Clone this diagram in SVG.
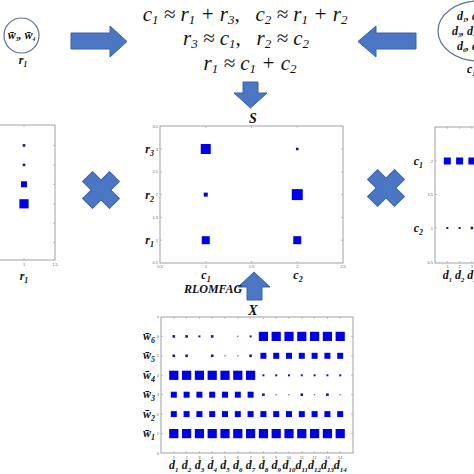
<svg xmlns="http://www.w3.org/2000/svg" xmlns:xlink="http://www.w3.org/1999/xlink" width="474" height="474" viewBox="0 0 474 474">
<style>
.eq{font-family:"Liberation Serif",serif;font-style:italic;font-size:21px;fill:#111}
.lab{font-family:"Liberation Serif",serif;font-style:italic;font-weight:bold;font-size:12px;fill:#111}
.ttl{font-family:"Liberation Serif",serif;font-style:italic;font-weight:bold;font-size:14px;fill:#111}
.tk{font-family:"Liberation Sans",sans-serif;font-size:4px;fill:#666}
.frame{fill:#fff;stroke:#a0a0a0;stroke-width:1}
.tick{stroke:#a0a0a0;stroke-width:0.6}
.arrow{fill:#4a76c4;stroke:#3a62a8;stroke-width:1}
.circ{fill:none;stroke:#5a6f95;stroke-width:1.2}
.mk{fill:#0000e6}
.dt{fill:#1c1c70}
</style>
<defs>
<rect id="m9" class="mk" x="-4.6" y="-4.6" width="9.2" height="9.2"/>
<rect id="m11" class="mk" x="-5.5" y="-5.5" width="11" height="11"/>
<rect id="m10" class="mk" x="-5" y="-5" width="10" height="10"/>
<rect id="m8" class="mk" x="-4" y="-4" width="8" height="8"/>
<rect id="m7" class="mk" x="-3.5" y="-3.5" width="7" height="7"/>
<rect id="m6" class="mk" x="-3" y="-3" width="6" height="6"/>
<rect id="m4" class="mk" x="-2" y="-2" width="4" height="4"/>
<rect id="d3" class="dt" x="-1.3" y="-1.3" width="2.6" height="2.6"/>
<rect id="d2" class="dt" x="-1" y="-1" width="2" height="2"/>
<rect id="d1" class="dt" x="-0.7" y="-0.7" width="1.4" height="1.4" opacity="0.6"/>
</defs>
<rect width="474" height="474" fill="#fff"/>

<!-- equations -->
<g id="equations">
<text class="eq" x="245" y="21" text-anchor="middle">c<tspan font-size="13" dy="3">1</tspan><tspan dy="-3"> ≈ r</tspan><tspan font-size="13" dy="3">1</tspan><tspan dy="-3"> + r</tspan><tspan font-size="13" dy="3">3</tspan><tspan dy="-3">,&#160;&#160;&#160;c</tspan><tspan font-size="13" dy="3">2</tspan><tspan dy="-3"> ≈ r</tspan><tspan font-size="13" dy="3">1</tspan><tspan dy="-3"> + r</tspan><tspan font-size="13" dy="3">2</tspan></text>
<text class="eq" x="246" y="45" text-anchor="middle">r<tspan font-size="13" dy="3">3</tspan><tspan dy="-3"> ≈ c</tspan><tspan font-size="13" dy="3">1</tspan><tspan dy="-3">,&#160;&#160;&#160;r</tspan><tspan font-size="13" dy="3">2</tspan><tspan dy="-3"> ≈ c</tspan><tspan font-size="13" dy="3">2</tspan></text>
<text class="eq" x="250" y="70" text-anchor="middle">r<tspan font-size="13" dy="3">1</tspan><tspan dy="-3"> ≈ c</tspan><tspan font-size="13" dy="3">1</tspan><tspan dy="-3"> + c</tspan><tspan font-size="13" dy="3">2</tspan></text>
</g>

<!-- left cluster circle -->
<g id="cluster-r1">
<circle class="circ" cx="21.5" cy="35.5" r="17.5"/>
<text class="lab" x="21.5" y="39" text-anchor="middle" font-size="8">w&#x304;<tspan font-size="5.5" dy="2">3</tspan><tspan dy="-2">, w&#x304;</tspan><tspan font-size="5.5" dy="2">4</tspan></text>
<text class="lab" x="23" y="64" text-anchor="middle" font-size="11">r<tspan font-size="7.5" dy="3">1</tspan></text>
</g>

<!-- right cluster ellipse -->
<g id="cluster-c1">
<ellipse class="circ" cx="479" cy="31" rx="41" ry="30"/>
<text class="lab" x="457" y="20" font-size="9">d<tspan font-size="6" dy="2">1</tspan><tspan dy="-2">, d</tspan><tspan font-size="6" dy="2">2</tspan></text>
<text class="lab" x="452" y="35" font-size="9">d<tspan font-size="6" dy="2">3</tspan><tspan dy="-2">, d</tspan><tspan font-size="6" dy="2">4</tspan><tspan dy="-2">, d</tspan><tspan font-size="6" dy="2">5</tspan></text>
<text class="lab" x="457" y="50" font-size="9">d<tspan font-size="6" dy="2">6</tspan><tspan dy="-2">, d</tspan><tspan font-size="6" dy="2">7</tspan></text>
<text class="lab" x="467" y="73" font-size="11">c<tspan font-size="7.5" dy="3">1</tspan></text>
</g>

<!-- connectors -->
<g id="connectors">
<polygon class="arrow" points="71,33 110,33 110,26 127,41.5 110,57 110,49 71,49"/>
<polygon class="arrow" points="416,33 376,33 376,26 358,41.5 376,57 376,49 416,49"/>
<polygon class="arrow" points="243,82 258,82 258,93 267,93 250.5,108 234,93 243,93"/>
<polygon class="arrow" points="254,272 270,287 262,287 262,300 247,300 247,287 238,287"/>
<polygon class="arrow" transform="translate(101,190) rotate(45)" points="-7,-19 7,-19 7,-7 19,-7 19,7 7,7 7,19 -7,19 -7,7 -19,7 -19,-7 -7,-7"/>
<polygon class="arrow" transform="translate(386,188) rotate(45)" points="-7,-19 7,-19 7,-7 19,-7 19,7 7,7 7,19 -7,19 -7,7 -19,7 -19,-7 -7,-7"/>
</g>

<!-- left plot: W x R -->
<g id="plot-WR">
<rect class="frame" x="-10" y="125" width="65" height="135"/>
<path class="tick" d="M24,125v2M24,260v-2M55,145.4h-2M55,164.9h-2M55,184.3h-2M55,203.8h-2M55,223.2h-2M55,242.6h-2"/>
<text class="tk" x="24" y="266" text-anchor="middle">1</text>
<text class="tk" x="55" y="266" text-anchor="middle">1.5</text>
<use xlink:href="#d3" x="24" y="145.4"/>
<use xlink:href="#d3" x="24" y="164.9"/>
<use xlink:href="#m6" x="24" y="184.3"/>
<use xlink:href="#m9" x="24" y="203.8"/>
<text class="lab" x="24" y="280" text-anchor="middle" font-size="12">r<tspan font-size="8" dy="3">1</tspan></text>
</g>

<!-- S plot -->
<g id="plot-S">
<text class="ttl" x="253" y="123" text-anchor="middle">S</text>
<rect class="frame" x="160" y="126" width="183" height="137"/>
<path class="tick" d="M205.75,126v2M251.5,126v2M297.25,126v2M205.75,263v-2M251.5,263v-2M297.25,263v-2M160,149h2M160,171.8h2M160,194.6h2M160,217.4h2M160,240.2h2M343,149h-2M343,171.8h-2M343,194.6h-2M343,217.4h-2M343,240.2h-2"/>
<g class="tk" text-anchor="end">
<text x="158" y="127.5">3.5</text>
<text x="158" y="150.5">3</text>
<text x="158" y="173.3">2.5</text>
<text x="158" y="196.1">2</text>
<text x="158" y="218.9">1.5</text>
<text x="158" y="241.7">1</text>
<text x="158" y="264">0.5</text>
</g>
<g class="tk" text-anchor="middle">
<text x="160" y="268">0.5</text>
<text x="205.75" y="268">1</text>
<text x="251.5" y="268">1.5</text>
<text x="297.25" y="268">2</text>
<text x="343" y="268">2.5</text>
</g>
<text class="lab" x="154" y="153" text-anchor="end">r<tspan font-size="8" dy="3">3</tspan></text>
<text class="lab" x="154" y="198.6" text-anchor="end">r<tspan font-size="8" dy="3">2</tspan></text>
<text class="lab" x="154" y="244.2" text-anchor="end">r<tspan font-size="8" dy="3">1</tspan></text>
<text class="lab" x="206" y="279" text-anchor="middle">c<tspan font-size="8" dy="2.5">1</tspan></text>
<text class="lab" x="298" y="279" text-anchor="middle">c<tspan font-size="8" dy="2.5">2</tspan></text>
<text class="lab" x="213" y="293" text-anchor="middle" font-size="9">RLOMFAG</text>
<use xlink:href="#m10" x="205.75" y="149"/>
<use xlink:href="#d3" x="297.25" y="149"/>
<use xlink:href="#m4" x="205.75" y="194.6"/>
<use xlink:href="#m11" x="297.25" y="194.6"/>
<use xlink:href="#m8" x="205.75" y="240.2"/>
<use xlink:href="#m8" x="297.25" y="240.2"/>
</g>

<!-- right plot: C x D -->
<g id="plot-CD">
<rect class="frame" x="435" y="127" width="60" height="136"/>
<path class="tick" d="M435,161h2M435,194.5h2M435,228h2M447.3,263v-2M459.6,263v-2M471.9,263v-2M447.3,127v2M459.6,127v2M471.9,127v2"/>
<g class="tk" text-anchor="end">
<text x="433" y="162.5">2</text>
<text x="433" y="196">1.5</text>
<text x="433" y="229.5">1</text>
<text x="433" y="264">0.5</text>
</g>
<g class="tk" text-anchor="middle">
<text x="447.3" y="268">1</text>
<text x="459.6" y="268">2</text>
<text x="471.9" y="268">3</text>
</g>
<text class="lab" x="423" y="165" text-anchor="end">c<tspan font-size="8" dy="3">1</tspan></text>
<text class="lab" x="423" y="232" text-anchor="end">c<tspan font-size="8" dy="3">2</tspan></text>
<g class="lab" font-size="10" text-anchor="middle">
<text x="447.3" y="279">d<tspan font-size="6.5" dy="2.5">1</tspan></text>
<text x="459.6" y="279">d<tspan font-size="6.5" dy="2.5">2</tspan></text>
<text x="471.9" y="279">d<tspan font-size="6.5" dy="2.5">3</tspan></text>
</g>
<use xlink:href="#m7" x="447.3" y="161"/>
<use xlink:href="#m7" x="459.6" y="161"/>
<use xlink:href="#m7" x="471.9" y="161"/>
<use xlink:href="#d2" x="447.3" y="228"/>
<use xlink:href="#d2" x="459.6" y="228"/>
<use xlink:href="#d3" x="471.9" y="228"/>
</g>

<!-- X plot -->
<g id="plot-X">
<text class="ttl" x="253" y="315" text-anchor="middle">X</text>
<rect class="frame" x="161" y="317" width="192" height="136"/>
<path class="tick" d="M173.8,317v2M186.6,317v2M199.4,317v2M212.2,317v2M225,317v2M237.8,317v2M250.6,317v2M263.4,317v2M276.2,317v2M289,317v2M301.8,317v2M314.6,317v2M327.4,317v2M340.2,317v2M173.8,453v-2M186.6,453v-2M199.4,453v-2M212.2,453v-2M225,453v-2M237.8,453v-2M250.6,453v-2M263.4,453v-2M276.2,453v-2M289,453v-2M301.8,453v-2M314.6,453v-2M327.4,453v-2M340.2,453v-2M161,433.6h2M161,414.1h2M161,394.7h2M161,375.3h2M161,355.8h2M161,336.4h2M353,433.6h-2M353,414.1h-2M353,394.7h-2M353,375.3h-2M353,355.8h-2M353,336.4h-2"/>
<g class="tk" text-anchor="end">
<text x="159" y="318.5">7</text>
<text x="159" y="337.9">6</text>
<text x="159" y="357.3">5</text>
<text x="159" y="376.8">4</text>
<text x="159" y="396.2">3</text>
<text x="159" y="415.6">2</text>
<text x="159" y="435.1">1</text>
<text x="159" y="454.5">0</text>
</g>
<g class="tk" text-anchor="middle">
<text x="173.8" y="458.5">1</text><text x="186.6" y="458.5">2</text><text x="199.4" y="458.5">3</text><text x="212.2" y="458.5">4</text><text x="225" y="458.5">5</text><text x="237.8" y="458.5">6</text><text x="250.6" y="458.5">7</text><text x="263.4" y="458.5">8</text><text x="276.2" y="458.5">9</text><text x="289" y="458.5">10</text><text x="301.8" y="458.5">11</text><text x="314.6" y="458.5">12</text><text x="327.4" y="458.5">13</text><text x="340.2" y="458.5">14</text>
</g>
<g class="lab" text-anchor="end" font-size="12">
<text x="155" y="340">w&#x304;<tspan font-size="8" dy="3">6</tspan></text>
<text x="155" y="359.4">w&#x304;<tspan font-size="8" dy="3">5</tspan></text>
<text x="155" y="378.8">w&#x304;<tspan font-size="8" dy="3">4</tspan></text>
<text x="155" y="398.2">w&#x304;<tspan font-size="8" dy="3">3</tspan></text>
<text x="155" y="417.6">w&#x304;<tspan font-size="8" dy="3">2</tspan></text>
<text x="155" y="437.1">w&#x304;<tspan font-size="8" dy="3">1</tspan></text>
</g>
<g class="lab" text-anchor="middle" font-size="11">
<text x="173.8" y="469">d<tspan font-size="7" dy="2.5">1</tspan></text>
<text x="186.6" y="469">d<tspan font-size="7" dy="2.5">2</tspan></text>
<text x="199.4" y="469">d<tspan font-size="7" dy="2.5">3</tspan></text>
<text x="212.2" y="469">d<tspan font-size="7" dy="2.5">4</tspan></text>
<text x="225" y="469">d<tspan font-size="7" dy="2.5">5</tspan></text>
<text x="237.8" y="469">d<tspan font-size="7" dy="2.5">6</tspan></text>
<text x="250.6" y="469">d<tspan font-size="7" dy="2.5">7</tspan></text>
<text x="263.4" y="469">d<tspan font-size="7" dy="2.5">8</tspan></text>
<text x="276.2" y="469">d<tspan font-size="7" dy="2.5">9</tspan></text>
<text x="289" y="469">d<tspan font-size="7" dy="2.5">10</tspan></text>
<text x="301.8" y="469">d<tspan font-size="7" dy="2.5">11</tspan></text>
<text x="314.6" y="469">d<tspan font-size="7" dy="2.5">12</tspan></text>
<text x="327.4" y="469">d<tspan font-size="7" dy="2.5">13</tspan></text>
<text x="340.2" y="469">d<tspan font-size="7" dy="2.5">14</tspan></text>
</g>
<!-- w1 -->
<g>
<use xlink:href="#m9" x="173.8" y="433.6"/><use xlink:href="#m9" x="186.6" y="433.6"/><use xlink:href="#m9" x="199.4" y="433.6"/><use xlink:href="#m9" x="212.2" y="433.6"/><use xlink:href="#m9" x="225" y="433.6"/><use xlink:href="#m9" x="237.8" y="433.6"/><use xlink:href="#m9" x="250.6" y="433.6"/><use xlink:href="#m9" x="263.4" y="433.6"/><use xlink:href="#m9" x="276.2" y="433.6"/><use xlink:href="#m9" x="289" y="433.6"/><use xlink:href="#m9" x="301.8" y="433.6"/><use xlink:href="#m9" x="314.6" y="433.6"/><use xlink:href="#m9" x="327.4" y="433.6"/><use xlink:href="#m9" x="340.2" y="433.6"/>
</g>
<!-- w2 -->
<g>
<use xlink:href="#m6" x="173.8" y="414.1"/><use xlink:href="#m6" x="186.6" y="414.1"/><use xlink:href="#m6" x="199.4" y="414.1"/><use xlink:href="#m6" x="212.2" y="414.1"/><use xlink:href="#m6" x="225" y="414.1"/><use xlink:href="#m6" x="237.8" y="414.1"/><use xlink:href="#m6" x="250.6" y="414.1"/><use xlink:href="#m6" x="263.4" y="414.1"/><use xlink:href="#m6" x="276.2" y="414.1"/><use xlink:href="#m6" x="289" y="414.1"/><use xlink:href="#m6" x="301.8" y="414.1"/><use xlink:href="#m6" x="314.6" y="414.1"/><use xlink:href="#m6" x="327.4" y="414.1"/><use xlink:href="#m6" x="340.2" y="414.1"/>
</g>
<!-- w3 -->
<g>
<use xlink:href="#m6" x="173.8" y="394.7"/><use xlink:href="#m6" x="186.6" y="394.7"/><use xlink:href="#m6" x="199.4" y="394.7"/><use xlink:href="#m6" x="212.2" y="394.7"/><use xlink:href="#m6" x="225" y="394.7"/><use xlink:href="#m6" x="237.8" y="394.7"/><use xlink:href="#m6" x="250.6" y="394.7"/><use xlink:href="#d3" x="263.4" y="394.7"/><use xlink:href="#d1" x="276.2" y="394.7"/><use xlink:href="#d1" x="289" y="394.7"/><use xlink:href="#d3" x="301.8" y="394.7"/><use xlink:href="#d1" x="314.6" y="394.7"/><use xlink:href="#d3" x="327.4" y="394.7"/><use xlink:href="#d1" x="340.2" y="394.7"/>
</g>
<!-- w4 -->
<g>
<use xlink:href="#m9" x="173.8" y="375.3"/><use xlink:href="#m9" x="186.6" y="375.3"/><use xlink:href="#m9" x="199.4" y="375.3"/><use xlink:href="#m9" x="212.2" y="375.3"/><use xlink:href="#m9" x="225" y="375.3"/><use xlink:href="#m9" x="237.8" y="375.3"/><use xlink:href="#m9" x="250.6" y="375.3"/><use xlink:href="#d2" x="263.4" y="375.3"/><use xlink:href="#d2" x="276.2" y="375.3"/><use xlink:href="#d2" x="289" y="375.3"/><use xlink:href="#d2" x="301.8" y="375.3"/><use xlink:href="#d2" x="314.6" y="375.3"/><use xlink:href="#d2" x="327.4" y="375.3"/><use xlink:href="#d2" x="340.2" y="375.3"/>
</g>
<!-- w5 -->
<g>
<use xlink:href="#d3" x="173.8" y="355.8"/><use xlink:href="#d3" x="186.6" y="355.8"/><use xlink:href="#d3" x="212.2" y="355.8"/><use xlink:href="#d1" x="225" y="355.8"/><use xlink:href="#d1" x="237.8" y="355.8"/><use xlink:href="#d3" x="250.6" y="355.8"/><use xlink:href="#m6" x="263.4" y="355.8"/><use xlink:href="#m6" x="276.2" y="355.8"/><use xlink:href="#m6" x="289" y="355.8"/><use xlink:href="#m6" x="301.8" y="355.8"/><use xlink:href="#m6" x="314.6" y="355.8"/><use xlink:href="#m6" x="327.4" y="355.8"/><use xlink:href="#m6" x="340.2" y="355.8"/>
</g>
<!-- w6 -->
<g>
<use xlink:href="#d3" x="173.8" y="336.4"/><use xlink:href="#d3" x="186.6" y="336.4"/><use xlink:href="#d2" x="199.4" y="336.4"/><use xlink:href="#d3" x="212.2" y="336.4"/><use xlink:href="#d1" x="237.8" y="336.4"/><use xlink:href="#d2" x="250.6" y="336.4"/><use xlink:href="#m9" x="263.4" y="336.4"/><use xlink:href="#m9" x="276.2" y="336.4"/><use xlink:href="#m9" x="289" y="336.4"/><use xlink:href="#m9" x="301.8" y="336.4"/><use xlink:href="#m9" x="314.6" y="336.4"/><use xlink:href="#m9" x="327.4" y="336.4"/><use xlink:href="#m9" x="340.2" y="336.4"/>
</g>
</g>
</svg>
